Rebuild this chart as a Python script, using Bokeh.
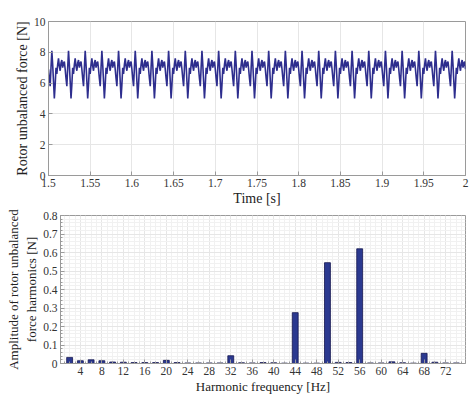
import numpy as np
from bokeh.plotting import figure
from bokeh.models import FixedTicker, Range1d
from bokeh.embed import file_html
from bokeh.resources import INLINE

# ---- top panel: rotor unbalanced force vs time (periodic, 0.02 s cycle) ----
t_start = 1.5
t_step = 0.001
n_samples = 501
peak_offset = 4  # sample index of first big peak (t = 1.504 s)
# one 20 ms cycle, 1 ms steps, starting at the big peak
cycle_force = [8.1, 7.2, 6.1, 5.0, 5.9, 7.0, 6.6, 7.2, 7.6, 7.1,
               6.8, 7.3, 7.5, 7.0, 7.3, 7.4, 6.9, 6.3, 5.8, 7.0]
time_ticks = [1.5, 1.55, 1.6, 1.65, 1.7, 1.75, 1.8, 1.85, 1.9, 1.95, 2.0]
time_tick_labels = ["1.5", "1.55", "1.6", "1.65", "1.7", "1.75", "1.8",
                    "1.85", "1.9", "1.95", "2"]
force_ticks = [0, 2, 4, 6, 8, 10]

# ---- bottom panel: harmonic spectrum ----
harm_freq = [2, 4, 6, 8, 10, 12, 14, 16, 18, 20, 22, 24, 26, 28, 30, 32, 34, 36,
             38, 40, 42, 44, 46, 48, 50, 52, 54, 56, 58, 60, 62, 64, 66, 68, 70,
             72, 74]
harm_amp = [0.033, 0.015, 0.020, 0.015, 0.008, 0.007, 0.005, 0.005, 0.005, 0.017,
            0.005, 0.003, 0.003, 0.003, 0.003, 0.042, 0.004, 0.003, 0.005, 0.004,
            0.002, 0.275, 0.002, 0.002, 0.545, 0.006, 0.005, 0.620, 0.003, 0.003,
            0.009, 0.004, 0.002, 0.055, 0.007, 0.003, 0.003]
freq_ticks = [4, 8, 12, 16, 20, 24, 28, 32, 36, 40, 44, 48, 52, 56, 60, 64, 68, 72]
amp_ticks = [0, 0.1, 0.2, 0.3, 0.4, 0.5, 0.6, 0.7, 0.8]
amp_tick_labels = ["0", "0.1", "0.2", "0.3", "0.4", "0.5", "0.6", "0.7", "0.8"]

idx = np.arange(n_samples)
time = t_start + t_step * idx
force = np.array(cycle_force)[(idx - peak_offset) % len(cycle_force)]

FONT = "Liberation Serif"
AXIS_COLOR = "#9a9a9a"
GRID_COLOR = "#e6e6e6"


def style(p, label_size="13px"):
    p.outline_line_color = AXIS_COLOR
    p.background_fill_color = "white"
    p.border_fill_color = "white"
    for ax in (p.xaxis[0], p.yaxis[0]):
        ax.axis_line_color = AXIS_COLOR
        ax.major_tick_line_color = AXIS_COLOR
        ax.minor_tick_line_color = AXIS_COLOR
        ax.major_tick_in = 4
        ax.major_tick_out = 0
        ax.minor_tick_in = 2
        ax.minor_tick_out = 0
        ax.major_label_text_font = FONT
        ax.major_label_text_font_size = "11.5px"
        ax.major_label_text_color = "#333333"
        ax.axis_label_text_font = FONT
        ax.axis_label_text_font_size = label_size
        ax.axis_label_text_font_style = "normal"
        ax.axis_label_text_color = "#222222"
        ax.major_label_standoff = 3
        ax.axis_label_standoff = 1
    p.xgrid.grid_line_color = GRID_COLOR
    p.ygrid.grid_line_color = GRID_COLOR


p1 = figure(width=472, height=208, x_range=Range1d(1.5, 2.0), y_range=Range1d(0, 10),
            output_backend="svg", toolbar_location=None,
            min_border_left=48, min_border_right=7, min_border_top=21, min_border_bottom=28)
p1.line(time, force, line_color="#2e2e8e", line_width=1.6)
p1.xaxis.ticker = FixedTicker(ticks=time_ticks, minor_ticks=[])
p1.yaxis.ticker = FixedTicker(ticks=force_ticks, minor_ticks=[])
p1.xaxis.major_label_overrides = dict(zip(time_ticks, time_tick_labels))
p1.xaxis.axis_label = "Time [s]"
p1.yaxis.axis_label = "Rotor unbalanced force [N]"
style(p1, label_size="14px")

p2 = figure(width=472, height=188, x_range=Range1d(0.3, 75.7), y_range=Range1d(0, 0.8),
            output_backend="svg", toolbar_location=None,
            min_border_left=60, min_border_right=7, min_border_top=7, min_border_bottom=28)
p2.vbar(x=harm_freq, top=harm_amp, width=1.1, fill_color="#2b3990",
        line_color="#15174f", line_width=0.8)
p2.xaxis.ticker = FixedTicker(ticks=freq_ticks, minor_ticks=list(range(1, 76)))
p2.yaxis.ticker = FixedTicker(ticks=amp_ticks,
                              minor_ticks=[round(0.02 * k, 2) for k in range(41)])
p2.yaxis.major_label_overrides = dict(zip(amp_ticks, amp_tick_labels))
p2.xaxis.axis_label = "Harmonic frequency [Hz]"
p2.yaxis.axis_label = "Amplitude of rotor unbalanced\nforce harmonics [N]"
style(p2, label_size="13px")
p2.xgrid.minor_grid_line_color = "#f1f1f1"
p2.ygrid.minor_grid_line_color = "#f1f1f1"

open("out.html", "w").write(file_html([p1, p2], INLINE))
